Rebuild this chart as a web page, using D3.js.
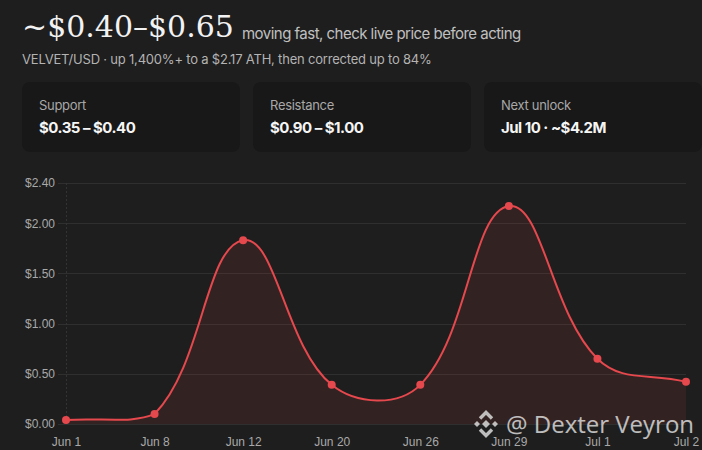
<!DOCTYPE html>
<html>
<head>
<meta charset="utf-8">
<script src="https://cdn.jsdelivr.net/npm/d3@7"></script>
<style>
  html, body { margin: 0; padding: 0; background: #1e1e1e; }
  svg { display: block; }
  text { font-family: Inter, "Liberation Sans", sans-serif; }
</style>
</head>
<body>
<div id="chart"></div>
<script>
// data
var dates = ["Jun 1", "Jun 8", "Jun 12", "Jun 20", "Jun 26", "Jun 29", "Jul 1", "Jul 2"];
var prices = [0.04, 0.10, 1.83, 0.39, 0.39, 2.17, 0.65, 0.42];
var yTicks = [0, 0.5, 1, 1.5, 2, 2.4];
var cardLabels = ["Support", "Resistance", "Next unlock"];
var cardValues = ["$0.35 – $0.40", "$0.90 – $1.00", "Jul 10 · ~$4.2M"];
var headline = "~$0.40–$0.65";
var headNote = "moving fast, check live price before acting";
var subline = "VELVET/USD · up 1,400%+ to a $2.17 ATH, then corrected up to 84%";
var watermark = "@ Dexter Veyron";

var width = 702, height = 450;
var red = "#e5484d";

var svg = d3.select("#chart").append("svg")
    .attr("width", width)
    .attr("height", height);

svg.append("rect").attr("width", width).attr("height", height).attr("fill", "#1e1e1e");

// header
svg.append("text")
    .attr("x", 22).attr("y", 37)
    .style("font-family", "'DejaVu Serif', serif")
    .style("font-size", "30px")
    .style("font-weight", "500")
    .attr("fill", "#f2f2f2")
    .text(headline);

svg.append("text")
    .attr("x", 242).attr("y", 39)
    .style("font-size", "15px")
    .style("letter-spacing", "-0.52px")
    .attr("fill", "#c0c0c0")
    .text(headNote);

svg.append("text")
    .attr("x", 22).attr("y", 64)
    .style("font-size", "13px")
    .style("letter-spacing", "-0.2px")
    .attr("fill", "#b3b3b3")
    .text(subline);

// stat cards
var cards = svg.selectAll(".card")
    .data(cardLabels)
  .enter().append("g")
    .attr("class", "card")
    .attr("transform", function (d, i) { return "translate(" + (22 + i * 231) + ",82)"; });

cards.append("rect")
    .attr("width", 218).attr("height", 70)
    .attr("rx", 8)
    .attr("fill", "#181818");

cards.append("text")
    .attr("x", 17).attr("y", 27.5)
    .style("font-size", "13px")
    .style("letter-spacing", "-0.3px")
    .attr("fill", "#a8a8a8")
    .text(function (d) { return d; });

cards.append("text")
    .attr("x", 17).attr("y", 51)
    .style("font-size", "15px")
    .style("font-weight", "700")
    .style("letter-spacing", "-0.5px")
    .attr("fill", "#f5f5f5")
    .text(function (d, i) { return cardValues[i]; });

// chart
var x = d3.scalePoint().domain(dates).range([66, 686]);
var y = d3.scaleLinear().domain([0, 2.4]).range([424, 183]);

// spline like Chart.js (tension 0.4, control points capped to the plot area)
function ChartSpline(context) { this._context = context; }
ChartSpline.prototype = {
  areaStart: function () { this._line = 0; },
  areaEnd: function () { this._line = NaN; },
  lineStart: function () { this._pts = []; },
  point: function (px, py) { this._pts.push([px, py]); },
  lineEnd: function () {
    var p = this._pts, n = p.length, ctx = this._context, t = 0.4;
    var top = y.range()[1], bottom = y.range()[0];
    var cap = function (v) { return Math.max(top, Math.min(bottom, v)); };
    if (n) {
      if (this._line) ctx.lineTo(p[0][0], p[0][1]); else ctx.moveTo(p[0][0], p[0][1]);
      var cps = p.map(function (c, i) {
        var a = p[Math.max(i - 1, 0)], b = p[Math.min(i + 1, n - 1)];
        var d01 = Math.hypot(c[0] - a[0], c[1] - a[1]);
        var d12 = Math.hypot(b[0] - c[0], b[1] - c[1]);
        var s = d01 + d12;
        var fa = s ? t * d01 / s : 0, fb = s ? t * d12 / s : 0;
        return {
          prev: [c[0] - fa * (b[0] - a[0]), cap(c[1] - fa * (b[1] - a[1]))],
          next: [c[0] + fb * (b[0] - a[0]), cap(c[1] + fb * (b[1] - a[1]))]
        };
      });
      for (var i = 1; i < n; i++) {
        ctx.bezierCurveTo(cps[i - 1].next[0], cps[i - 1].next[1],
                          cps[i].prev[0], cps[i].prev[1], p[i][0], p[i][1]);
      }
    }
    if (this._line || (this._line !== 0 && n === 1)) ctx.closePath();
    this._line = 1 - this._line;
  }
};
var chartSpline = function (context) { return new ChartSpline(context); };

var plot = svg.append("g");

// horizontal grid with small tick stubs on the left
plot.selectAll(".grid")
    .data(yTicks)
  .enter().append("line")
    .attr("class", "grid")
    .attr("x1", 58).attr("x2", 686)
    .attr("y1", function (d) { return Math.round(y(d)) + 0.5; })
    .attr("y2", function (d) { return Math.round(y(d)) + 0.5; })
    .attr("stroke", "#2f2f2f")
    .attr("stroke-width", 1);

plot.append("line")
    .attr("x1", 66.5).attr("x2", 66.5)
    .attr("y1", y(2.4)).attr("y2", y(0))
    .attr("stroke", "#333")
    .attr("stroke-dasharray", "2,2");

// y axis labels
var yAxis = d3.axisLeft(y)
    .tickValues(yTicks)
    .tickSize(0)
    .tickPadding(0)
    .tickFormat(function (d) { return "$" + d3.format(".2f")(d); });

plot.append("g")
    .attr("transform", "translate(55,0)")
    .call(yAxis)
    .call(function (g) { g.select(".domain").remove(); })
    .selectAll("text")
    .style("font-family", "'Liberation Sans', Arial, sans-serif")
    .style("font-size", "12px")
    .attr("fill", "#a9a9a9");

// x axis labels
var xAxis = d3.axisBottom(x).tickSize(0).tickPadding(0);
plot.append("g")
    .attr("transform", "translate(0,437)")
    .call(xAxis)
    .call(function (g) { g.select(".domain").remove(); })
    .selectAll("text")
    .style("font-family", "'Liberation Sans', Arial, sans-serif")
    .style("font-size", "12px")
    .attr("fill", "#a9a9a9");

var area = d3.area()
    .x(function (d, i) { return x(dates[i]); })
    .y0(y(0))
    .y1(function (d) { return y(d); })
    .curve(chartSpline);

var line = d3.line()
    .x(function (d, i) { return x(dates[i]); })
    .y(function (d) { return y(d); })
    .curve(chartSpline);

plot.append("path")
    .datum(prices)
    .attr("d", area)
    .attr("fill", red)
    .attr("fill-opacity", 0.11);

plot.append("path")
    .datum(prices)
    .attr("d", line)
    .attr("fill", "none")
    .attr("stroke", red)
    .attr("stroke-width", 2);

plot.selectAll(".dot")
    .data(prices)
  .enter().append("circle")
    .attr("class", "dot")
    .attr("cx", function (d, i) { return x(dates[i]); })
    .attr("cy", function (d) { return y(d); })
    .attr("r", 4)
    .attr("fill", red);

// watermark
var wm = svg.append("g").attr("opacity", 0.82);
var logo = wm.append("g").attr("transform", "translate(486,424)").attr("fill", "#e0e0e0").attr("stroke", "#e0e0e0");
logo.append("path").attr("d", "M0,-4L4,0L0,4L-4,0Z").attr("stroke", "none");
logo.append("path").attr("d", "M-9,-3L-6,0L-9,3L-12,0Z").attr("stroke", "none");
logo.append("path").attr("d", "M9,-3L12,0L9,3L6,0Z").attr("stroke", "none");
logo.append("path").attr("d", "M-6,-5.5L0,-11.5L6,-5.5").attr("fill", "none").attr("stroke-width", 3.4);
logo.append("path").attr("d", "M-6,5.5L0,11.5L6,5.5").attr("fill", "none").attr("stroke-width", 3.4);

wm.append("text")
    .attr("x", 506).attr("y", 432.5)
    .style("font-family", "'Open Sans', 'Noto Sans', sans-serif")
    .style("font-size", "24px")
    .attr("fill", "#e0e0e0")
    .text(watermark);
</script>
</body>
</html>
